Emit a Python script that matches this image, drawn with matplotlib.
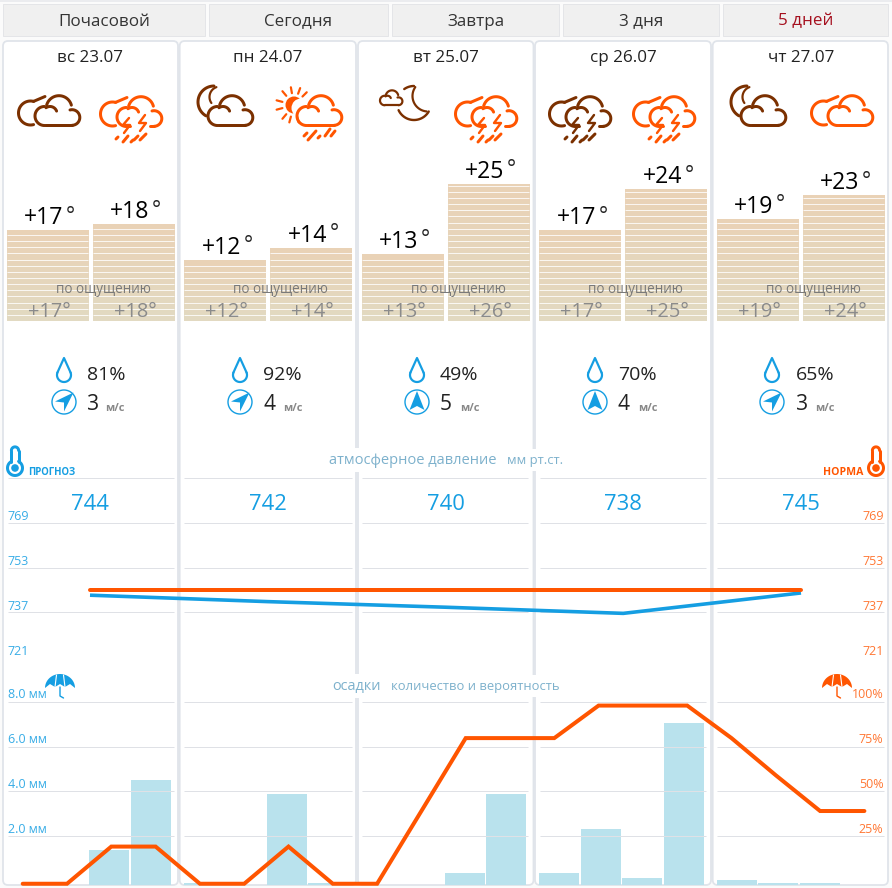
import numpy as np
import matplotlib
matplotlib.use("Agg")
import matplotlib.pyplot as plt
from matplotlib.patches import FancyBboxPatch, Rectangle, Polygon, Circle
from matplotlib.colors import LinearSegmentedColormap

plt.rcParams['font.family'] = ['Open Sans', 'DejaVu Sans']

W, H = 892, 888
PT = 0.72  # one pixel in points at dpi 100

BLUE = '#159ee2'
ORANGE = '#ff5500'
BROWN = '#7b3000'
TITLE = '#7db1cc'

tabs = ['Почасовой', 'Сегодня', 'Завтра', '3 дня', '5 дней']
dates = ['вс 23.07', 'пн 24.07', 'вт 25.07', 'ср 26.07', 'чт 27.07']
temp_first = [17, 12, 13, 17, 19]
temp_second = [18, 14, 25, 24, 23]
feels_first = [17, 12, 13, 17, 19]
feels_second = [18, 14, 26, 25, 24]
humidity = [81, 92, 49, 70, 65]
wind = [3, 4, 5, 4, 3]
pressure_labels = [744, 742, 740, 738, 745]
# line as it sits against the axis, a bit below the printed values
pressure_line = [743.1, 740.8, 738.8, 736.6, 743.9]
pressure_norm = [745, 745, 745, 745, 745]
pressure_ticks = [785, 769, 753, 737, 721]
rain_mm = [0, 0, 1.53, 4.59,
           0.1, 0, 3.98, 0.1,
           0, 0, 0.51, 3.98,
           0.51, 2.45, 0.3, 7.1,
           0.22, 0.1, 0.1, 0]
rain_prob = [-1.7, -1.7, 19.1, 19.1, -1.7, -1.7, 19.1, -1.7, -1.7, 39,
             79.8, 79.8, 79.8, 98, 98, 98, 79.8, 59, 39, 39]
prob_ticks = [25, 50, 75, 100]
mm_labels = ['2.0 мм', '4.0 мм', '6.0 мм', '8.0 мм']
prob_labels = ['25%', '50%', '75%', '100%']

tab_spans = [(3, 205), (209, 388), (392, 559), (563, 719), (723, 888)]
card_spans = [(3, 178), (179.7, 356), (358, 533.5), (535, 711), (712.7, 888)]
grid_left = [7.5, 184, 362, 540, 717]
grid_right = [174, 351.5, 528, 705.5, 883.5]


def band(top, bottom, lo, hi, z):
    # full width axes whose x runs in pixels and y in the data's unit
    a = fig.add_axes([0, 1 - bottom / H, 1, (bottom - top) / H], zorder=z)
    a.set_xlim(0, W)
    a.set_ylim(lo, hi)
    a.axis('off')
    return a


def arc(a, cx, cy, r, a0, a1, color, lw=3):
    t = np.radians(np.linspace(a0, a1, 40))
    a.plot(cx + r * np.cos(t), cy - r * np.sin(t), color=color, lw=lw * PT, solid_capstyle='round')


def seg(a, pts, color, lw=3):
    pts = np.array(pts, dtype=float)
    a.plot(pts[:, 0], pts[:, 1], color=color, lw=lw * PT, solid_capstyle='round', solid_joinstyle='round')


def front_cloud(a, ox, oy, color, s=1.0, lw=3, base=True):
    arc(a, ox + 26.5 * s, oy + 21 * s, 9.5 * s, 90, 270, color, lw)
    arc(a, ox + 41 * s, oy + 13.5 * s, 12.8 * s, 165, 15, color, lw)
    arc(a, ox + 54 * s, oy + 22.5 * s, 7.8 * s, 105, -90, color, lw)
    arc(a, ox + 32 * s, oy + 18.5 * s, 7 * s, 125, 20, color, lw)
    if base:
        seg(a, [(ox + 26.5 * s, oy + 30.5 * s), (ox + 54 * s, oy + 30.5 * s)], color, lw)
    else:
        seg(a, [(ox + 26.5 * s, oy + 30.5 * s), (ox + 30 * s, oy + 30.5 * s)], color, lw)
        seg(a, [(ox + 50 * s, oy + 30.5 * s), (ox + 54 * s, oy + 30.5 * s)], color, lw)


def double_cloud(a, ox, oy, color, base=True):
    front_cloud(a, ox, oy, color, base=base)
    arc(a, ox + 12.5, oy + 18, 12, 285, 75, color)
    seg(a, [(ox + 15.5, oy + 6.4), (ox + 27, oy + 1.5)], color)


def rain(a, ox, oy, color):
    for x0, y0, x1, y1 in [(16, 43, 18, 41), (23, 46, 28, 40), (38, 40, 34, 44), (46, 38, 40, 44), (31, 46, 33, 44)]:
        seg(a, [(ox + x0, oy + y0), (ox + x1, oy + y1)], color)


def storm_cloud(a, ox, oy, color):
    double_cloud(a, ox, oy, color, base=False)
    seg(a, [(ox + 29, oy + 22), (ox + 23, oy + 29), (ox + 30, oy + 29), (ox + 24, oy + 37)], color, 2.4)
    seg(a, [(ox + 45, oy + 19), (ox + 39, oy + 27), (ox + 46, oy + 27), (ox + 40, oy + 35)], color, 2.4)
    rain(a, ox, oy, color)


def moon_cloud(a, ox, oy, color):
    arc(a, ox + 23, oy + 7, 16, 90, 240, color)
    arc(a, ox + 29, oy + 2, 10.5, 110, 215, color, 2.2)
    front_cloud(a, ox, oy, color)


def sun_cloud(a, ox, oy, color):
    cx, cy = ox + 14, oy + 10
    a.add_patch(Circle((cx, cy), 8.5, color=color, lw=0))
    a.add_patch(Circle((cx + 7, cy + 3), 9.5, color='white', lw=0))
    for ang in [100, 70, 130, 165, 195, 230, 255, 285, 45]:
        t = np.radians(ang)
        seg(a, [(cx + 12 * np.cos(t), cy - 12 * np.sin(t)), (cx + 18 * np.cos(t), cy - 18 * np.sin(t))], color, 2.2)
    front_cloud(a, ox, oy, color)
    for x0, y0, x1, y1 in [(32, 38, 29, 41), (41, 36, 33, 45), (45, 41, 43, 43), (55, 34, 50, 41), (60, 36, 56, 41)]:
        seg(a, [(ox + x0 - 5, oy + y0), (ox + x1 - 5, oy + y1)], color)


def small_moon(a, color):
    arc(a, 414, 103, 17, 205, 330, color, 2.4)
    arc(a, 414, 103, 17, 90, 125, color, 2.4)
    arc(a, 428, 96, 15.5, 145, 265, color, 2.2)


def drop(a, x, y):
    arc(a, x, y + 17, 7, 160, 380, BLUE, 2.2)
    seg(a, [(x - 6.6, y + 14.6), (x, y), (x + 6.6, y + 14.6)], BLUE, 2.2)


def compass(a, x, y, north):
    a.add_patch(Circle((x, y), 12, fill=False, ec=BLUE, lw=1.4 * PT))
    if north:
        pts = [(0, -11), (-7.5, 8), (0, 4), (7.5, 8)]
    else:
        pts = [(9.5, -9.5), (-9, -0.5), (0, 0.5), (0, 9.5)]
    a.add_patch(Polygon([(x + p, y + q) for p, q in pts], closed=True, color=BLUE, lw=0))


def thermometer(a, x, color):
    arc(a, x, 468, 7.5, 118, 422, color, 3)
    seg(a, [(x - 3.6, 461.5), (x - 3.6, 450.5)], color, 3)
    seg(a, [(x + 3.6, 461.5), (x + 3.6, 450.5)], color, 3)
    arc(a, x, 450.5, 3.6, 0, 180, color, 3)
    a.add_patch(Circle((x, 468), 3.8, color=color, lw=0))


def umbrella(a, x, color):
    t = np.radians(np.linspace(180, 0, 30))
    pts = [(x + 15 * np.cos(v), 688 - 14 * np.sin(v)) for v in t]
    for u, v in [(10, 684), (5, 687), (0, 684), (-5, 687), (-10, 684), (-15, 688)]:
        pts.append((x + u, v))
    a.add_patch(Polygon(pts, closed=True, color=color, lw=0))
    seg(a, [(x - 5, 687), (x - 3.5, 675)], 'white', 1.1)
    seg(a, [(x + 5, 687), (x + 3.5, 675)], 'white', 1.1)
    seg(a, [(x, 687), (x, 696), (x + 3.5, 698)], color, 1.4)


fig = plt.figure(figsize=(W / 100, H / 100), dpi=100, facecolor='#fbfbfb')

# cards and tabs go underneath everything
back = fig.add_axes([0, 0, 1, 1], zorder=0)
back.set_xlim(0, W)
back.set_ylim(H, 0)
back.axis('off')
back.plot([0, W], [1.5, 1.5], color='#e6e8ec', lw=1.5 * PT)
for (x0, x1), tab in zip(tab_spans, tabs):
    back.add_patch(Rectangle((x0, 4), x1 - x0, 32, fc='#f0f0f0', ec='#e4e5e8', lw=1 * PT))
    back.text((x0 + x1) / 2, 21.5, tab, ha='center', va='center', fontsize=17 * PT,
              color='#a50f1e' if tab == '5 дней' else '#333333', weight=500)
for x0, x1 in card_spans:
    back.add_patch(FancyBboxPatch((x0 + 5, 46), x1 - x0 - 10, 834, boxstyle='round,pad=5',
                                  fc='white', ec='#e0e4ea', lw=1.8 * PT))

# temperature bars
ax_temp = band(160, 321, 1.5, 1.5 + 161 / 5.85, 1)
stripe_step = 6.15 / 5.85
gradient = np.linspace(0, 1, 64).reshape(-1, 1)
cmap = LinearSegmentedColormap.from_list('sand', ['#e2dac2', '#ead2b6'])
for day in range(5):
    for slot, temps, feels in [(0, temp_first, feels_first), (1, temp_second, feels_second)]:
        x = 47.5 + 177.5 * day + 86 * slot
        t = temps[day]
        bar = ax_temp.bar(x, t - 1.5, bottom=1.5, width=81.5, color='#e6d6bc', lw=0)[0]
        img = ax_temp.imshow(gradient, extent=(x - 40.75, x + 40.75, 1.5, t), origin='lower',
                             cmap=cmap, aspect='auto', vmin=0, vmax=1, zorder=1.5)
        img.set_clip_path(bar)
        levels = 1.5 + stripe_step * np.arange(0, 30)
        levels = levels[levels < t - 0.3]
        ax_temp.hlines(levels, x - 40.75, x + 40.75, color='white', lw=1 * PT, alpha=0.8, zorder=2)
        ax_temp.annotate('+%d' % t, (x, t), xytext=(-3.5 * PT, 12 * PT), textcoords='offset points',
                         ha='center', va='center', fontsize=23 * PT, color='black', annotation_clip=False, weight=500)
        ax_temp.annotate('°', (x, t), xytext=(23 * PT, 14 * PT), textcoords='offset points',
                         ha='center', va='center', fontsize=21 * PT, color='#222222', annotation_clip=False)
ax_temp.set_xlim(0, W)
ax_temp.set_ylim(1.5, 1.5 + 161 / 5.85)

# pressure
ax_press = band(478, 657, 721, 785, 1)
for tick in pressure_ticks:
    ax_press.hlines([tick] * 5, grid_left, grid_right, color='#dfe1e6', lw=1 * PT)
centres = 90 + 177.75 * np.arange(5)
ax_press.plot(centres, pressure_line, color=BLUE, lw=3.6 * PT, solid_capstyle='butt', solid_joinstyle='miter')
ax_press.plot(centres, pressure_norm, color=ORANGE, lw=4 * PT, solid_capstyle='round')
for tick in pressure_ticks[1:]:
    ax_press.annotate(str(tick), (7.5, tick), xytext=(0, 6 * PT), textcoords='offset points', ha='left',
                      va='center', fontsize=12.5 * PT, color=BLUE, alpha=0.85, annotation_clip=False)
    ax_press.annotate(str(tick), (883.5, tick), xytext=(0, 6 * PT), textcoords='offset points', ha='right',
                      va='center', fontsize=12.5 * PT, color=ORANGE, alpha=0.8, annotation_clip=False)

# precipitation, bars have their own scale under the percent axis
ax_rain = band(702, 885, 0, 8, 1)
rain_days = np.repeat(np.arange(5), 4)
rain_slots = np.tile(np.arange(4), 5)
ax_rain.bar(6.5 + 177.6 * rain_days + 41.4 * rain_slots, rain_mm, width=40, align='edge', color='#b9e2ed', lw=0)

ax_prob = band(702, 885, -2.4, 100, 2)
for tick, mm, pct in zip(prob_ticks, mm_labels, prob_labels):
    ax_prob.hlines([tick] * 5, grid_left, grid_right, color='#dfe1e6', lw=1 * PT)
    ax_prob.annotate(mm, (7.5, tick), xytext=(0, 7 * PT), textcoords='offset points', ha='left', va='center',
                     fontsize=12.5 * PT, color=BLUE, alpha=0.85, annotation_clip=False)
    ax_prob.annotate(pct, (883.5, tick), xytext=(0, 7 * PT), textcoords='offset points', ha='right', va='center',
                     fontsize=12.5 * PT, color=ORANGE, alpha=0.8, annotation_clip=False)
ax_prob.plot(22.7 + 44.3 * np.arange(20), rain_prob, color=ORANGE, lw=4 * PT,
             solid_capstyle='round', solid_joinstyle='miter', clip_on=False)

# text and icons on top
top = fig.add_axes([0, 0, 1, 1], zorder=3)
top.set_xlim(0, W)
top.set_ylim(H, 0)
top.axis('off')
top.patch.set_alpha(0)

drop_x = [64, 240, 417, 595, 772]
text_x = [87, 263, 440, 618, 796]
unit_x = [105, 283, 460, 638, 815]
compass_north = [False, False, True, True, False]
for d in range(5):
    top.text(90 + 177.75 * d, 58.5, dates[d], ha='center', va='center', fontsize=17 * PT, color='#222222', weight=500)
    top.text(103 + 177.6 * d, 289.5, 'по ощущению', ha='center', va='center', fontsize=13.5 * PT, color='#7a7a7a')
    for slot, feels in [(0, feels_first), (1, feels_second)]:
        top.text(49 + 177.5 * d + 86 * slot, 312, '+%d°' % feels[d], ha='center', va='center',
                 fontsize=20 * PT, color='#8b8b8b')
    drop(top, drop_x[d], 358)
    compass(top, drop_x[d], 402, compass_north[d])
    top.text(text_x[d], 374.5, '%d%%' % humidity[d], ha='left', va='center', fontsize=19.5 * PT, color='#222222', weight=500)
    top.text(text_x[d], 404.5, str(wind[d]), ha='left', va='center', fontsize=21 * PT, color='#222222', weight=500)
    top.text(unit_x[d], 408, 'м/с', ha='left', va='center', fontsize=11 * PT, color='#888888', weight='bold')
    top.text(centres[d], 504, str(pressure_labels[d]), ha='center', va='center', fontsize=22 * PT, color=BLUE)

double_cloud(top, 18, 95, BROWN)
storm_cloud(top, 100, 96, ORANGE)
moon_cloud(top, 191, 95, BROWN)
sun_cloud(top, 280, 95, ORANGE)
small_moon(top, BROWN)
front_cloud(top, 371.5, 90, BROWN, s=0.5, lw=2.2)
storm_cloud(top, 455, 96, ORANGE)
storm_cloud(top, 549, 96, BROWN)
storm_cloud(top, 633, 96, ORANGE)
moon_cloud(top, 724, 95, BROWN)
double_cloud(top, 811, 95, ORANGE)

thermometer(top, 15, BLUE)
thermometer(top, 876, ORANGE)
top.text(28, 472, 'ПРОГНОЗ', ha='left', va='center', fontsize=9.7 * PT, color=BLUE, weight='bold')
top.text(863, 472, 'НОРМА', ha='right', va='center', fontsize=10.5 * PT, color=ORANGE, weight='bold')
umbrella(top, 60, BLUE)
umbrella(top, 837, ORANGE)

box = dict(fc='white', ec='none', pad=3)
top.text(413, 460, 'атмосферное давление', ha='center', va='center', fontsize=14.6 * PT, color=TITLE, bbox=box)
top.text(535, 460, 'мм рт.ст.', ha='center', va='center', fontsize=13 * PT, color=TITLE, bbox=box)
top.text(356.5, 686, 'осадки', ha='center', va='center', fontsize=14.5 * PT, color=TITLE, bbox=box)
top.text(475, 686, 'количество и вероятность', ha='center', va='center', fontsize=13 * PT, color=TITLE, bbox=box)

fig.savefig('out.png', dpi=100, facecolor=fig.get_facecolor())
